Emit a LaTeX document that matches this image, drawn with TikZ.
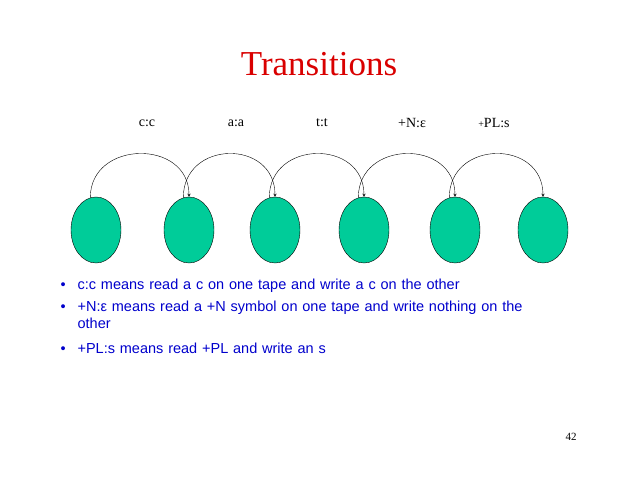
\documentclass[tikz,border=0pt]{standalone}
\usepackage{fontspec}
\usetikzlibrary{shapes.geometric}
\setmainfont{Liberation Serif}
\newfontfamily\arial{Liberation Sans}
\begin{document}
\begin{tikzpicture}[x=1pt,y=-1pt,
  lbl/.style={font=\fontsize{14}{14}\selectfont},
  bul/.style={anchor=west,text=blue!80!black,font=\arial\fontsize{14.5}{17}\selectfont,align=left,text width=520pt},
  arc/.style={->,>=stealth}]
\useasboundingbox (0,0) rectangle (638,478);
\node[text=red!85!black,font=\fontsize{35}{35}\selectfont] (title) at (319,64) {Transitions};
\colorlet{sg}{rgb,255:red,0;green,204;blue,153}
\foreach \i/\x in {1/96,2/189,3/275,4/364,5/455,6/543}
  \node[draw=black,fill=sg,ellipse,minimum width=50pt,minimum height=66pt,inner sep=0pt] (s\i) at (\x,230) {};
\foreach \a/\b in {1/2,2/3,3/4,4/5,5/6}
  \draw[arc] (s\a.100) .. controls ([yshift=58pt]s\a.100) and ([yshift=58pt]s\b.90) .. (s\b.90);
\node[lbl] (l1) at (147,123) {c:c};
\node[lbl] (l2) at (236,123) {a:a};
\node[lbl] (l3) at (322,123) {t:t};
\node[lbl] (l4) at (412,123) {+N:ε};
\node[lbl] (l5) at (494,123) {{\fontsize{10}{10}\selectfont+}PL:s};
\node[bul] (b1) at (57,286) {•\hspace{12pt}c:c means read a c on one tape and write a c on the other};
\node[bul] (b2) at (57,315) {•\hspace{12pt}\parbox[t]{470pt}{+N:ε means read a +N symbol on one tape and write nothing on the other}};
\node[bul] (b3) at (57,348) {•\hspace{12pt}+PL:s means read +PL and write an s};
\node[font=\fontsize{11}{11}\selectfont] (pg) at (571,437) {42};
\end{tikzpicture}
\end{document}
